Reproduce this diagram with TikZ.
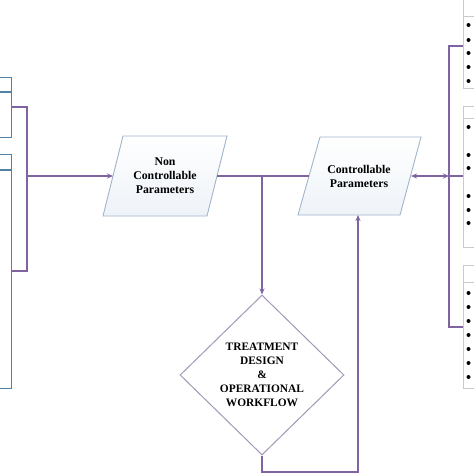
\documentclass[tikz,border=0pt]{standalone}
\usepackage{fontspec}
\setmainfont{Liberation Serif}
\usetikzlibrary{arrows.meta,shapes.geometric}
\definecolor{conn}{HTML}{8064A2}
\definecolor{lboxc}{HTML}{4F82A6}
\definecolor{pbord}{HTML}{A3B5CB}
\definecolor{pfill}{HTML}{EEF3F8}
\definecolor{dbord}{HTML}{A497B8}
\definecolor{rboxc}{HTML}{CACACA}
\tikzset{
  connector/.style={draw=conn, line width=1.4pt},
  arr/.style={connector, -{Stealth[length=6pt,width=5pt]}},
  darr/.style={connector, {Stealth[length=6pt,width=5pt]}-{Stealth[length=6pt,width=5pt]}},
  lbox/.style={draw=lboxc, line width=1.1pt, fill=white, rectangle, inner sep=0pt},
  rbox/.style={draw=rboxc, line width=0.9pt, fill=white, rectangle, inner sep=0pt},
  para/.style={draw=pbord, line width=0.9pt, top color=white, bottom color=pfill},
  ptext/.style={align=center, font=\bfseries\fontsize{11.8}{14}\selectfont, inner sep=0pt},
  dshape/.style={diamond, draw=dbord, line width=1pt, fill=white, minimum width=164pt, minimum height=160pt, inner sep=0pt, align=center, font=\bfseries\fontsize{11.4}{14}\selectfont},
  bullet/.style={circle, fill=black, inner sep=0pt, minimum size=4pt},
}
\begin{document}
\begin{tikzpicture}[x=1pt,y=-1pt]
\useasboundingbox (0,0) rectangle (474,474);
\clip (0,0) rectangle (474,474);
\fill[white] (0,0) rectangle (474,474);

% left boxes
\node[lbox, minimum width=30pt, minimum height=60pt, anchor=north east] (L1) at (12,77) {};
\draw[lboxc, line width=1.1pt] (-20,92) -- (12,92);
\node[lbox, minimum width=30pt, minimum height=234pt, anchor=north east] (L2) at (12,154) {};
\draw[lboxc, line width=1.1pt] (-20,170) -- (12,170);

% left bracket
\coordinate (lbT) at (12,107);
\coordinate (lbB) at (12,271);
\coordinate (lbM) at (27,176);
\draw[connector] (lbT) -- (27,107) -- (27,271) -- (lbB);

% non controllable parallelogram
\path[para] (123,136) -- (227,136) -- (207,216) -- (103,216) -- cycle;
\node[ptext] (ncp) at (165,176) {Non\\Controllable\\Parameters};
\coordinate (ncpW) at (113,176);
\coordinate (ncpE) at (217,176);

% controllable parallelogram
\path[para] (320,137) -- (421,137) -- (400,215) -- (298,215) -- cycle;
\node[ptext] (cp) at (359,176) {Controllable\\Parameters};
\coordinate (cpW) at (309,176);
\coordinate (cpE) at (411,176);
\coordinate (cpS) at (358,215);

% diamond
\node[dshape] (tdw) at (262,375) {TREATMENT\\DESIGN\\\&\\OPERATIONAL\\WORKFLOW};

% connectors
\draw[arr] (lbM) -- (ncpW);
\draw[connector] (ncpE) -- (cpW);
\coordinate (jn) at (262,176);
\draw[arr] (jn) -- (tdw.north);
\coordinate (lpA) at (262,472);
\coordinate (lpB) at (358,472);
\draw[arr] (tdw.south) -- (lpA) -- (lpB) -- (cpS);

% right boxes
\node[rbox, minimum width=30pt, minimum height=99pt, anchor=south west] (R1) at (463,89) {};
\draw[rboxc, line width=0.9pt] (463,16) -- (490,16);
\node[rbox, minimum width=30pt, minimum height=141pt, anchor=north west] (R2) at (463,106) {};
\draw[rboxc, line width=0.9pt] (463,118) -- (490,118);
\node[rbox, minimum width=30pt, minimum height=123pt, anchor=north west] (R3) at (463,265) {};
\draw[rboxc, line width=0.9pt] (463,282) -- (490,282);

\foreach \y [count=\i] in {25,40,53,67,81} \node[bullet] (b1\i) at (468.5,\y) {};
\foreach \y [count=\i] in {127,155,168,196,210,223} \node[bullet] (b2\i) at (468.5,\y) {};
\foreach \y [count=\i] in {293,307,321,335,349,363,377} \node[bullet] (b3\i) at (468.5,\y) {};

% right bracket
\coordinate (rbT) at (463,46);
\coordinate (rbB) at (463,327);
\coordinate (rbM) at (449,176);
\coordinate (rbE) at (463,176);
\draw[connector] (rbT) -- (449,46) -- (449,327) -- (rbB);
\draw[darr] (cpE) -- (rbM);
\draw[connector] (rbM) -- (rbE);
\end{tikzpicture}
\end{document}
